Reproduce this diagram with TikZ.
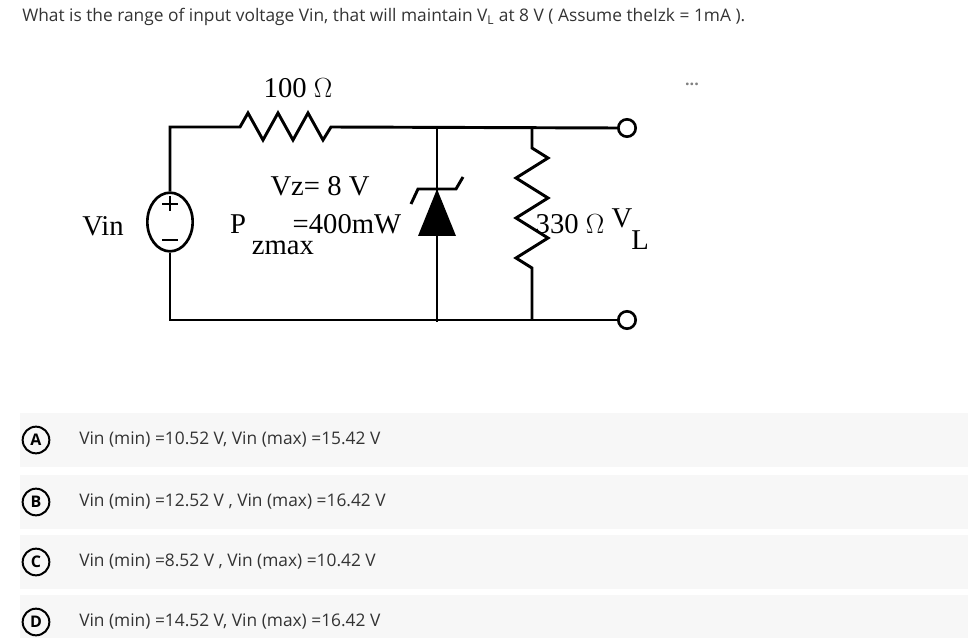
\documentclass[tikz,border=0pt]{standalone}
\usepackage{fontspec}
\usetikzlibrary{shapes.geometric}
\setmainfont{Open Sans}
\newfontfamily\ser{Liberation Serif}
\begin{document}
\begin{tikzpicture}[x=0.75pt,y=-0.75pt,
  w/.style={line width=2.2pt},
  ring/.style={circle,draw,line width=2pt,minimum size=13pt,inner sep=0pt,fill=white},
  ct/.style={font=\ser\fontsize{21.5}{24}\selectfont,inner sep=0pt},
  q/.style={font=\fontsize{13}{15}\selectfont,text=black!80,inner sep=0pt,anchor=west},
  opt/.style={fill=black!3,draw=none},
  lett/.style={circle,draw,line width=1.5pt,minimum size=20pt,inner sep=0pt,font=\bfseries\fontsize{12}{12}\selectfont}]
\useasboundingbox (0,0) rectangle (968,638);
\node[q] (qq) at (22,17) {What is the range of input voltage Vin, that will maintain V\textsubscript{L} at 8 V ( Assume theIzk = 1mA ).};
% circuit
\coordinate (tl) at (170,127); \coordinate (bl) at (170,320);
\node[ring] (o1) at (627,128) {};
\node[ring] (o2) at (627,320) {};
\node[draw,ellipse,line width=2pt,minimum width=34pt,minimum height=44pt,inner sep=0pt] (src) at (170,222) {};
\draw[w] (src.north) -- (tl) -- (240,127) -- (248,113) -- (263,140) -- (278,113) -- (293,140) -- (308,113) -- (323,140) -- (331,127) -- (o1.west);
\draw[w] (src.south) -- (bl) -- (o2.west);
\draw[line width=1.8pt] (170,196) -- (170,211) (162,204) -- (178,204) (162,240) -- (178,240);
% zener
\coordinate (zt) at (437,127); \coordinate (zb) at (437,322);
\draw[w] (zt) -- (zb);
\fill (437,189) -- (418,236) -- (456,236) -- cycle;
\draw[w] (411,204) -- (418,189) -- (456,189) -- (463,177);
% load resistor
\draw[w] (532,127) -- (532,148) -- (548,158) -- (516,178) -- (548,198) -- (516,218) -- (548,238) -- (516,258) -- (532,268) -- (532,320);
% labels
\node[ct] (r1) at (298,88) {100 $\Omega$};
\node[ct] (vz) at (320,186) {Vz= 8 V};
\node[ct] (vin) at (103,226) {Vin};
\node[ct] (p) at (238,224) {P};
\node[ct] (pw) at (347,224) {=400mW};
\node[ct] (zm) at (283,248) {zmax};
\node[ct] (r2) at (570,224) {330 $\Omega$};
\node[ct] (vl) at (622,218) {V};
\node[ct] (vls) at (640,240) {L};
\node[text=black!50,font=\bfseries\fontsize{12}{12}\selectfont] (dots) at (692,84) {...};
% options
\foreach \y/\L/\t in {413/A/{Vin (min) =10.52 V, Vin (max) =15.42 V},475/B/{Vin (min) =12.52 V , Vin (max) =16.42 V},535/C/{Vin (min) =8.52 V , Vin (max) =10.42 V},595/D/{Vin (min) =14.52 V, Vin (max) =16.42 V}}{
  \fill[opt] (20,\y) rectangle (968,\y+54);
  \node[lett] (l\L) at (36,\y+27) {\L};
  \node[q] (t\L) at (79,\y+27) {\t};
}
\end{tikzpicture}
\end{document}
